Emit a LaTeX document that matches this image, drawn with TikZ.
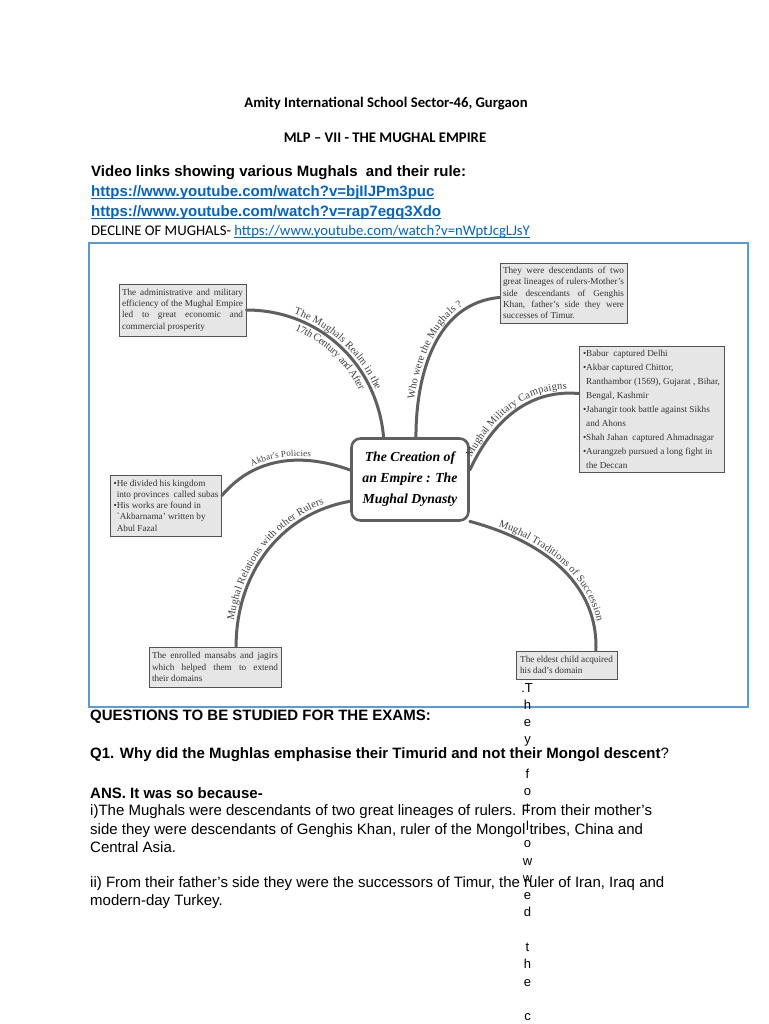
\documentclass[tikz,border=0pt]{standalone}
\usepackage{fontspec}
\newfontfamily\arialfont{Liberation Sans}
\newfontfamily\calibrifont{Carlito}
\newfontfamily\bookfont{Liberation Serif}
\usetikzlibrary{decorations.text}
\definecolor{linkblue}{HTML}{0563C1}
\definecolor{frameblue}{HTML}{5B9BD5}
\definecolor{inkgray}{HTML}{5F5F5F}
\definecolor{boxfill}{HTML}{E6E6E6}
\definecolor{labelgray}{HTML}{404040}
\newcommand{\weburl}[1]{\underline{\smash{#1}}}
\tikzset{
  doc/.style={anchor=base west, inner sep=0pt, font=\arialfont\fontsize{15}{19}\selectfont},
  docbold/.style={doc, font=\arialfont\bfseries\fontsize{15}{19}\selectfont},
  weblink/.style={docbold, text=linkblue},
  heading/.style={anchor=base, inner sep=0pt, font=\calibrifont\bfseries\fontsize{14.7}{17}\selectfont},
  mapbox/.style={draw=gray!65!black, fill=boxfill, line width=0.7pt, inner sep=3pt,
    text=black!80, font=\bookfont\fontsize{9.2}{11.3}\selectfont},
  hubbox/.style={draw=inkgray, line width=2.6pt, rounded corners=9pt, fill=white,
    minimum width=117pt, minimum height=82pt, align=center,
    font=\bookfont\bfseries\itshape\fontsize{13.8}{21}\selectfont},
  branch/.style={draw=inkgray, line width=3pt, line cap=round},
  alongtext/.style n args={3}{decorate, decoration={text along path,
    text={|\bookfont\fontsize{#3}{12}\selectfont|#1}, text color=labelgray,
    text align=center, raise=#2}},
  vchar/.style={anchor=base, inner sep=0pt, font=\arialfont\fontsize{13}{15}\selectfont}
}
\begin{document}
\begin{tikzpicture}[x=1pt, y=-1pt]
  \useasboundingbox (0,0) rectangle (768,1024);
  \fill[white] (0,0) rectangle (768,1024);

  % page heading and links
  \node[heading] (school) at (386,107.5) {Amity International School Sector-46, Gurgaon};
  \node[heading] (mlp) at (385,142.5) {MLP – VII - THE MUGHAL EMPIRE};
  \node[docbold] (vidhead) at (91,177) {Video links showing various Mughals~ and their rule:};
  \node[weblink] (linkA) at (91,197) {\weburl{https://www.youtube.com/watch?v=bjIlJPm3puc}};
  \node[weblink] (linkB) at (91,217) {\weburl{https://www.youtube.com/watch?v=rap7egq3Xdo}};
  \node[anchor=base west, inner sep=0pt, font=\calibrifont\fontsize{14.7}{17}\selectfont] (decline)
    at (91,235.5) {DECLINE OF MUGHALS- \textcolor{linkblue}{\weburl{https://www.youtube.com/watch?v=nWptJcgLJsY}}};

  % frame of the mind map
  \draw[frameblue, line width=1.3pt] (89,243) rectangle (748,707);

  % mind map
  \node[hubbox] (hub) at (410,479.5) {The Creation of\\an Empire : The\\Mughal Dynasty};
  \node[mapbox, text width=121pt, align=justify, minimum height=52pt] (realm) at (182.5,310)
    {The administrative and military\linebreak efficiency of the Mughal Empire\linebreak
     led to great economic and\linebreak commercial prosperity};
  \node[mapbox, text width=121pt, align=justify, minimum height=60pt] (who) at (563.5,293)
    {They were descendants of two\linebreak great lineages of rulers-Mother’s\linebreak
     side descendants of Genghis\linebreak Khan, father’s side they were\linebreak successes of Timur.};
  \node[mapbox, align=left, minimum width=145pt, minimum height=126pt,
    font=\bookfont\fontsize{9.2}{14}\selectfont] (camp) at (651.5,409)
    {\textbullet Babur~ captured Delhi\\
     \textbullet Akbar captured Chittor,\\
     \hphantom{\textbullet}Ranthambor (1569), Gujarat , Bihar,\\
     \hphantom{\textbullet}Bengal, Kashmir\\
     \textbullet Jahangir took battle against Sikhs\\
     \hphantom{\textbullet}and Ahons\\
     \textbullet Shah Jahan~ captured Ahmadnagar\\
     \textbullet Aurangzeb pursued a long fight in\\
     \hphantom{\textbullet}the Deccan};
  \node[mapbox, align=left, minimum width=108pt, minimum height=61pt] (akbar) at (166,505.5)
    {\textbullet He divided his kingdom\\
     \hphantom{\textbullet}into provinces~ called subas\\
     \textbullet His works are found in\\
     \hphantom{\textbullet}`Akbarnama’ written by\\
     \hphantom{\textbullet}Abul Fazal};
  \node[mapbox, text width=126pt, align=justify, minimum height=40pt] (rel) at (215,667)
    {The enrolled mansabs and jagirs\linebreak which helped them to extend\linebreak their domains};
  \node[mapbox, align=left, minimum width=101pt, minimum height=28pt] (succ) at (566.5,665)
    {The eldest child acquired\\his dad’s domain};

  \draw[branch, postaction={alongtext={The Mughals Realm in the}{4pt}{10.5}},
    postaction={alongtext={17th Century and After}{-11pt}{10.5}}]
    (realm.east) to[out=0, in=95] (hub.122);
  \draw[branch, postaction={alongtext={Who were the Mughals ?}{4pt}{10.5}}]
    (hub.82) to[out=90, in=185] (who.184);
  \draw[branch, postaction={alongtext={Mughal Military Campaigns}{4pt}{10.5}}]
    (hub.9) to[out=65, in=175] (camp.168);
  \draw[branch, postaction={alongtext={Akbar's Policies}{4pt}{9}}]
    (akbar.10) to[out=50, in=160] (hub.171);
  \draw[branch, postaction={alongtext={Mughal Relations with other Rulers}{4pt}{10.5}}]
    (rel.44) to[out=90, in=190] (hub.200);
  \draw[branch, postaction={alongtext={Mughal Traditions of Succession}{4pt}{10.5}}]
    (hub.325) to[out=-15, in=88] (succ.26);

  % questions
  \node[docbold] (qhead) at (90,720) {QUESTIONS TO BE STUDIED FOR THE EXAMS:};
  \node[docbold] (qone) at (90,758.5) {Q1. Why did the Mughlas emphasise their Timurid and not their Mongol descent\textmd{?}};
  \node[docbold] (ans) at (90,798) {ANS. It was so because-};
  \node[doc] (ansA) at (90,815) {i)The Mughals were descendants of two great lineages of rulers. From their mother’s};
  \node[doc] (ansB) at (90,834) {side they were descendants of Genghis Khan, ruler of the Mongol tribes, China and};
  \node[doc] (ansC) at (90,852.5) {Central Asia.};
  \node[doc] (ansD) at (90,887) {ii) From their father’s side they were the successors of Timur, the ruler of Iran, Iraq and};
  \node[doc] (ansE) at (90,905.5) {modern-day Turkey.};

  % letters running down the page
  \node[vchar, anchor=base east] (vdot) at (533,692) {.T};
  \foreach \k/\ch in {1/h,2/e,3/y,5/f,6/o,7/l,8/l,9/o,10/w,11/w,12/e,13/d,15/t,16/h,17/e,19/c}
    \node[vchar] (v\k) at (527.5,{692+17.3*\k}) {\ch};
\end{tikzpicture}
\end{document}
